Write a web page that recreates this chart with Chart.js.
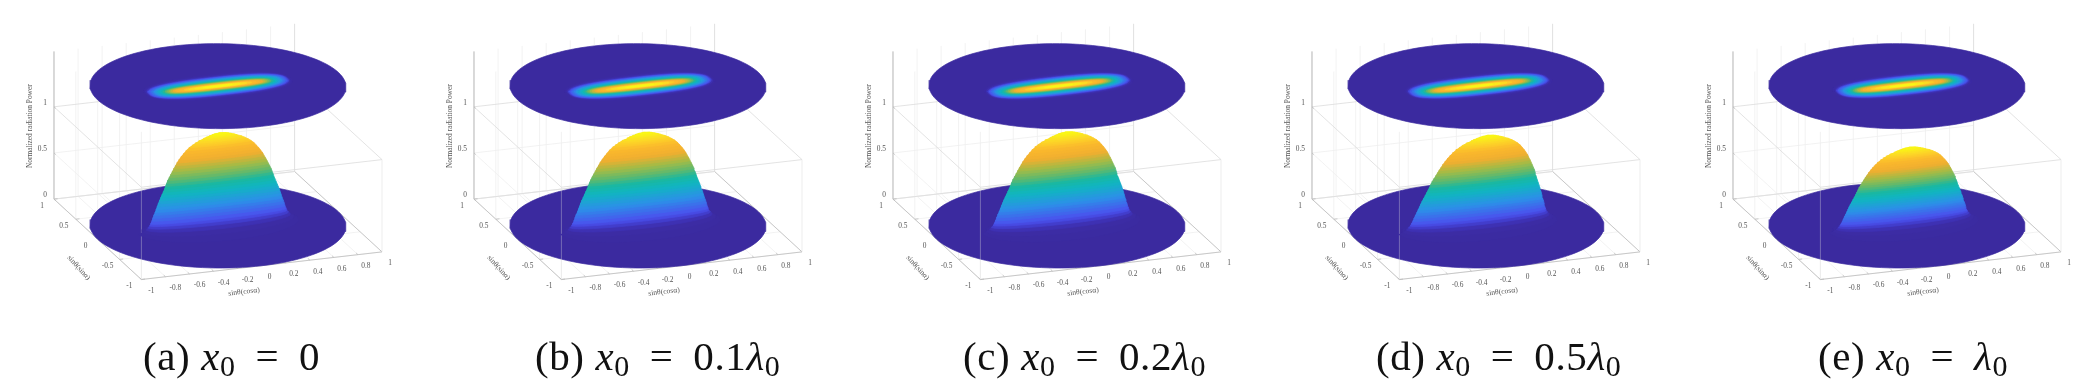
<!DOCTYPE html>
<html><head><meta charset="utf-8">
<script src="https://cdn.jsdelivr.net/npm/chart.js@4"></script>
<style>
html,body{margin:0;padding:0;background:#fff;overflow:hidden;width:2100px;height:380px}
canvas{position:absolute;top:0;filter:blur(.65px)}
.cap{position:absolute;top:335px;font:41px/42px "Liberation Serif",serif;color:#111;white-space:pre;letter-spacing:.6px;filter:blur(.4px)}
.cap i{font-style:italic}
.cap b{font-weight:normal;word-spacing:9px}
.cap sub{font-size:30px;line-height:0;position:relative;top:6px;vertical-align:baseline}
</style></head><body>
<script>
const panels      = ['a','b','c','d','e'];
const captions    = ['(a) <i>x</i><sub>0</sub><b> = </b>0','(b) <i>x</i><sub>0</sub><b> = </b>0.1<i>λ</i><sub>0</sub>','(c) <i>x</i><sub>0</sub><b> = </b>0.2<i>λ</i><sub>0</sub>','(d) <i>x</i><sub>0</sub><b> = </b>0.5<i>λ</i><sub>0</sub>','(e) <i>x</i><sub>0</sub><b> = </b><i>λ</i><sub>0</sub>'];
const captionLeft = [143,535,963,1376,1818];
const centreX     = [217.5,638,1057.3,1475.8,1897];
const peak        = [1.0,1.0,1.0,0.96,0.83];
const baseShift   = [0,0.015,0.03,0.01,0.05];
const topShift    = [0.02,0.05,0.08,0.10,0.11];
const sideScale   = [1,1,0.99,0.99,0.93];
const mapShift    = [0,0.016,0.014,0.02,0.045];
const mapScale    = [1,1.01,1,0.99,0.93];
const xTicks = [-1,-0.8,-0.6,-0.4,-0.2,0,0.2,0.4,0.6,0.8,1];
const yTicks = [-1,-0.5,0,0.5,1];
const zTicks = [0,0.5,1];
const zAxisTop = 1.6, mapPlaneZ = 1.51;
const xTitle = 'sinθ(cosα)', yTitle = 'sinθ(sinα)', zTitle = 'Normalized radiation Power';
// ridge profile (height fraction, half length, half width)
const levelH = [0,.02,.04,.06,.08,.10,.13,.16,.19,.22,.25,.28,.31,.34,.37,.40,.43,.46,.49,.52,.55,.58,.61,.64,.67,.70,.73,.76,.79,.82,.85,.88,.90,.92,.94,.96,.97,.98,.99,.995,1];
const levelL = [.66,.63,.60,.585,.572,.565,.555,.548,.54,.53,.522,.514,.506,.497,.487,.477,.467,.457,.449,.44,.432,.42,.408,.396,.384,.37,.358,.342,.325,.305,.285,.258,.235,.21,.18,.14,.12,.095,.07,.05,.015];
const levelW = [.36,.24,.16,.11,.08,.06,.045,.04,.036,.034,.033,.032,.031,.03,.03,.029,.028,.028,.027,.027,.026,.026,.025,.025,.024,.024,.023,.023,.022,.022,.021,.021,.02,.02,.019,.018,.017,.015,.013,.011,.01];
// projected map on the upper plane (colour level, half length, half width)
const mapLevel = [.02,.05,.08,.11,.14,.18,.22,.26,.30,.35,.40,.45,.50,.55,.60,.65,.70,.75,.80,.85,.90,.94,.97,1];
const mapL = [.60,.585,.575,.565,.555,.545,.53,.52,.51,.495,.48,.465,.45,.435,.42,.405,.39,.37,.35,.32,.28,.24,.19,.12];
const mapW = [.27,.235,.21,.195,.185,.175,.165,.155,.145,.135,.12,.11,.10,.09,.08,.072,.064,.056,.048,.04,.032,.026,.02,.012];
const cmapStops = [0,.04,.06,.1,.25,.40,.48,.55,.65,.75,.85,.93,1];
const cmapHex = ['#3b2a9f','#3c2ca6','#3f36c0','#4a52ee','#2c90e8','#10b6c0','#1bb8a0','#5cb96f','#a5bb45','#f0ae30','#fbb92c','#fcd827','#f9f815'];

// ----- view -----
const PX = 120.3, W = 416, Hh = 320, FLOOR_Y = 225.5;
const proj = (u,v,z) => ({x:u - .3633*v, y:.1147*u + .3342*v + .7672*z});
function parula(t){
  t=Math.max(0,Math.min(1,t));
  let i=0; while(i<cmapStops.length-2 && t>cmapStops[i+1]) i++;
  const f=(t-cmapStops[i])/(cmapStops[i+1]-cmapStops[i]);
  const c=h=>[1,3,5].map(k=>parseInt(h.substr(k,2),16));
  const a=c(cmapHex[i]),b=c(cmapHex[i+1]);
  return `rgb(${a.map((p,k)=>Math.round(p+(b[k]-p)*f)).join(',')})`;
}
const sp=(c,e)=>Math.sign(c)*Math.pow(Math.abs(c),e);
function arc(c,L,Wd,z,a0,a1,n,e){
  const pts=[];
  for(let i=0;i<=n;i++){const a=a0+(a1-a0)*i/n;
    pts.push(proj(c+L*sp(Math.cos(a),e),Wd*sp(Math.sin(a),e),z));}
  return pts;
}
const poly=(data,color)=>({data,showLine:true,fill:'shape',backgroundColor:color,borderColor:color,borderWidth:.7,pointRadius:0,tension:0});
const seg=(a,b,color,w)=>({data:[proj(...a),proj(...b)],showLine:true,fill:false,borderColor:color,borderWidth:w||.8,pointRadius:0,tension:0});

function buildDatasets(k){
  const ds=[], faint='#efefef', mid='#dcdcdc', axis='#bdbdbd';
  xTicks.forEach(u=>{ds.push(seg([u,-1,0],[u,1,0],faint));ds.push(seg([u,1,0],[u,1,zAxisTop],faint));});
  yTicks.forEach(v=>{ds.push(seg([-1,v,0],[1,v,0],faint));ds.push(seg([-1,v,0],[-1,v,zAxisTop],faint));});
  zTicks.forEach(z=>{ds.push(seg([-1,-1,z],[-1,1,z],z===1?mid:faint));ds.push(seg([-1,1,z],[1,1,z],z===1?mid:faint));});
  ds.push(seg([1,1,1],[1,-1,1],mid),seg([1,-1,1],[-1,-1,1],mid));
  ds.push(seg([-1,1,0],[1,1,0],mid),seg([1,1,0],[1,-1,0],axis),seg([-1,-1,0],[1,-1,0],axis),seg([-1,-1,0],[-1,1,0],axis));
  ds.push(seg([-1,1,0],[-1,1,zAxisTop],axis,1),seg([1,1,0],[1,1,zAxisTop],mid));
  xTicks.forEach(u=>ds.push(seg([u,-1,0],[u,-.96,0],axis)));
  yTicks.forEach(v=>ds.push(seg([-1,v,0],[-.97,v,0],axis)));
  zTicks.forEach(z=>ds.push(seg([-1,1,z],[-1,.96,z],axis)));
  ds.push(poly(arc(0,1,1,0,0,2*Math.PI,120,1),cmapHex[0]));
  ds.push(seg([-1,-1,0],[-1,-1,1],'rgba(225,225,225,.45)'),seg([1,-1,0],[1,-1,1],'#e8e8e8'));
  const cen=h=>baseShift[k]+(topShift[k]-baseShift[k])*h;
  for(let i=0;i<levelH.length-1;i++){
    const h0=levelH[i],h1=levelH[i+1];
    const low=arc(cen(h0),levelL[i]*sideScale[k],levelW[i],h0*peak[k],Math.PI,2*Math.PI,12,1);
    const up=arc(cen(h1),levelL[i+1]*sideScale[k],levelW[i+1],h1*peak[k],0,Math.PI,12,1);
    ds.push(poly(low.concat(up),parula((h0+h1)/2)));
  }
  ds.push(poly(arc(0,1,1,mapPlaneZ,0,2*Math.PI,120,1),cmapHex[0]));
  mapLevel.forEach((c,i)=>ds.push(poly(arc(mapShift[k],mapL[i]*mapScale[k],mapW[i],mapPlaneZ,0,2*Math.PI,48,.8),parula(c))));
  ds.forEach((d,i)=>d.order=ds.length-i);
  return ds;
}

const labelPlugin={id:'axisText',afterDatasetsDraw(chart){
  const c=chart.ctx,sx=chart.scales.x,sy=chart.scales.y;
  const at=(u,v,z)=>{const p=proj(u,v,z);return [sx.getPixelForValue(p.x),sy.getPixelForValue(p.y)];};
  c.save();c.filter='blur(0.4px)';c.fillStyle='#555';c.font='7.4px "Liberation Serif",serif';c.textBaseline='middle';
  c.textAlign='center';
  xTicks.forEach(u=>{const[p,q]=at(u,-1,0);c.fillText(String(u),p+(u<0?10:8),q+11.5);});
  yTicks.forEach(v=>{const[p,q]=at(-1,v,0);c.fillText(String(v),p-12,q+6.5);});
  c.textAlign='right';
  zTicks.forEach(z=>{const[p,q]=at(-1,1,z);c.fillText(String(z),p-7,q-4);});
  const txt=(s,u,v,z,dx,dy,rot)=>{const[p,q]=at(u,v,z);c.save();c.translate(p+dx,q+dy);c.rotate(rot);c.textAlign='center';c.fillText(s,0,0);c.restore();};
  c.font='7.6px "Liberation Serif",serif';
  txt(xTitle,0,0,0,26,66.3,-.12);
  txt(yTitle,0,0,0,-139.3,42.3,.83);
  c.font='7.4px "Liberation Serif",serif';
  txt(zTitle,0,0,0,-188.3,-99.3,-Math.PI/2);
  c.restore();
}};

panels.forEach((p,k)=>{
  const cv=document.createElement('canvas');
  cv.width=W;cv.height=Hh;cv.style.left=(centreX[k]-W/2)+'px';cv.style.width=W+'px';cv.style.height=Hh+'px';
  document.body.appendChild(cv);
  new Chart(cv,{type:'scatter',data:{datasets:buildDatasets(k)},plugins:[labelPlugin],options:{
    responsive:false,animation:false,devicePixelRatio:1,events:[],
    layout:{padding:0},
    scales:{x:{type:'linear',display:false,min:-W/2/PX,max:W/2/PX},
            y:{type:'linear',display:false,min:-(Hh-FLOOR_Y)/PX,max:FLOOR_Y/PX}},
    plugins:{legend:{display:false},tooltip:{enabled:false},title:{display:false}}
  }});
  const d=document.createElement('div');d.className='cap';d.style.left=captionLeft[k]+'px';d.innerHTML=captions[k];document.body.appendChild(d);
});
</script>
</body></html>
